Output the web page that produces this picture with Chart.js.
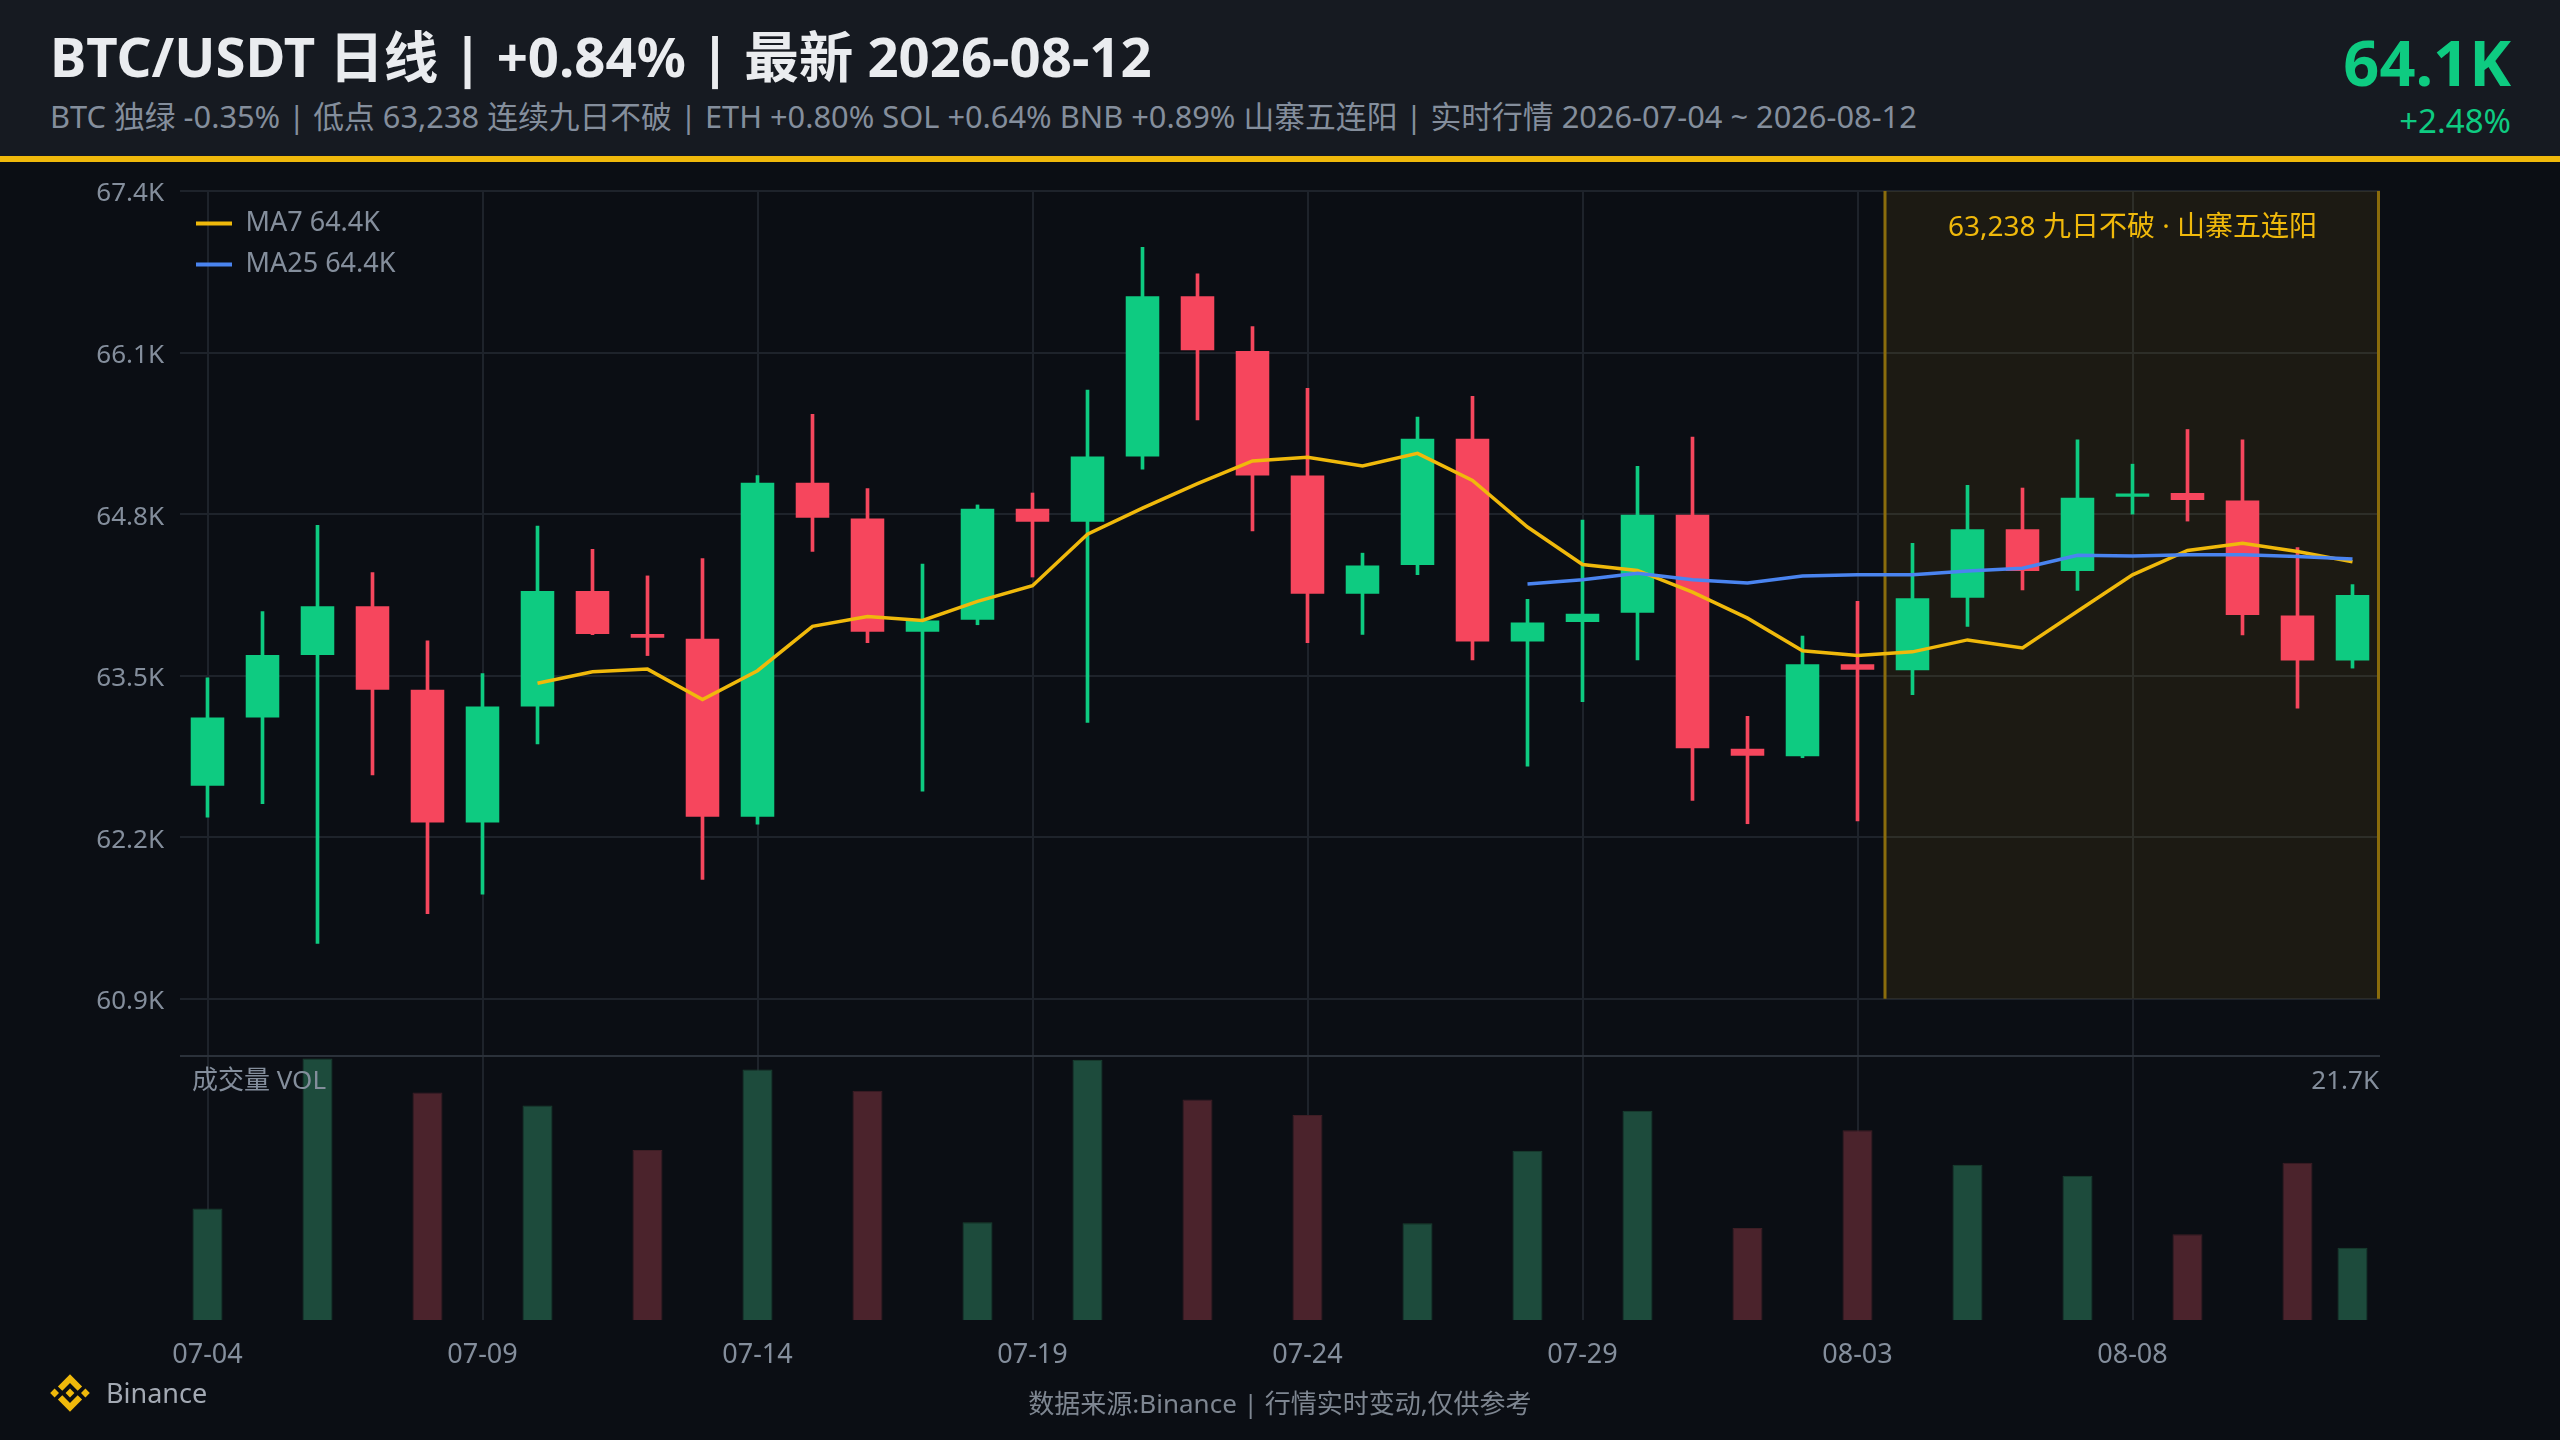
<!DOCTYPE html>
<html lang="zh-CN">
<head>
<meta charset="utf-8">
<title>BTC/USDT 日线</title>
<script src="https://cdn.jsdelivr.net/npm/chart.js@4.4.1/dist/chart.umd.min.js"></script>
<style>
  html, body { margin: 0; padding: 0; }
  body {
    width: 2560px; height: 1440px; overflow: hidden; position: relative;
    background: #0b0e14;
    font-family: "Noto Sans", "Noto Sans CJK SC", sans-serif;
  }
  #head {
    position: absolute; left: 0; top: 0; width: 2560px; height: 156px;
    background: #161a21; border-bottom: 6px solid #F0B90B; z-index: 2;
  }
  #title { position: absolute; left: 50px; top: 24px; font-size: 54.5px; line-height: 64px; font-weight: 700; color: #eaecef; white-space: nowrap; }
  #sub { position: absolute; left: 50px; top: 98px; font-size: 30.8px; line-height: 36px; color: #848e9c; white-space: nowrap; }
  #last { position: absolute; right: 49px; top: 24px; font-size: 63px; line-height: 76px; font-weight: 700; color: #0ECB81; }
  #chg { position: absolute; right: 49px; top: 102px; font-size: 33px; line-height: 38px; color: #0ECB81; }
  #wrap { position: absolute; left: 0; top: 0; width: 2560px; height: 1440px; z-index: 1; }
  #logo { position: absolute; left: 48px; top: 1371px; width: 44px; height: 44px; z-index: 2; }
  #brand { position: absolute; left: 106px; top: 1376px; font-size: 27px; line-height: 34px; color: #a3a9b3; z-index: 2; }
  #foot { position: absolute; left: 0; width: 2560px; top: 1387px; text-align: center; font-size: 26px; line-height: 32px; color: #7e8691; z-index: 2; }
</style>
</head>
<body>
<div id="head">
  <div id="title">BTC/USDT 日线 | +0.84% | 最新 2026-08-12</div>
  <div id="sub">BTC 独绿 -0.35% | 低点 63,238 连续九日不破 | ETH +0.80% SOL +0.64% BNB +0.89% 山寨五连阳 | 实时行情 2026-07-04 ~ 2026-08-12</div>
  <div id="last">64.1K</div>
  <div id="chg">+2.48%</div>
</div>
<div id="wrap"><canvas id="klineCanvas"></canvas></div>
<svg id="logo" viewBox="0 0 40 40">
  <g fill="#F0B90B">
    <polygon points="20,16 24,20 20,24 16,20"/>
    <polygon points="6,16 10,20 6,24 2,20"/>
    <polygon points="34,16 38,20 34,24 30,20"/>
    <polygon points="20,3 31,14 27,18 20,11 13,18 9,14"/>
    <polygon points="20,37 31,26 27,22 20,29 13,22 9,26"/>
  </g>
</svg>
<div id="brand">Binance</div>
<div id="foot">数据来源:Binance | 行情实时变动,仅供参考</div>

<script>
//Fechas (categorías)
const dates = ['07-04','07-05','07-06','07-07','07-08','07-09','07-10','07-11','07-12','07-13',
  '07-14','07-15','07-16','07-17','07-18','07-19','07-20','07-21','07-22','07-23',
  '07-24','07-25','07-26','07-27','07-28','07-29','07-30','07-31','08-01','08-02',
  '08-03','08-04','08-05','08-06','08-07','08-08','08-09','08-10','08-11','08-12']

//Velas OHLC
const opens = [62615,63164,63666,64059,63387,62318,63252,64181,63836,63797,
  62366,65053,64765,63854,63950,64844,64739,65263,66554,66113,
  65110,64159,64390,65407,63775,63932,64006,64796,62912,62851,
  63592,63544,64128,64678,64342,64940,64970,64910,63985,63623]
const highs = [63483,64015,64709,64329,63780,63518,64704,64517,64303,64443,
  65110,65603,65005,64399,64874,64970,65799,66946,66733,66309,
  65812,64486,65581,65747,64115,64752,65184,65420,63173,63819,
  64098,64565,65031,65010,65398,65202,65481,65398,64530,64233]
const lows = [62362,62471,61345,62702,61585,61742,62951,63830,63662,61860,
  62305,64499,63766,62571,63910,64294,63125,65162,65559,64665,
  63766,63832,64312,63627,62772,63291,63627,62497,62309,62840,
  62331,63348,63897,64190,64186,64800,64744,63828,63238,63561]
const closes = [63164,63666,64059,63387,62318,63252,64181,63836,63806,62366,
  65053,64770,63854,63945,64844,64739,65263,66554,66118,65110,
  64159,64386,65407,63775,63928,63998,64796,62916,62855,63592,
  63548,64124,64678,64342,64931,64966,64914,63989,63623,64150]

//Volumen (sólo las barras visibles)
const volumes = [9240,null,21700,null,18880,null,17790,null,14100,null,
  20790,null,19010,null,8110,null,21590,null,18290,null,
  17010,null,8020,null,14050,null,17350,null,7630,null,
  15740,null,12880,null,11960,null,7110,null,13050,6000]

//Medias móviles
const ma7 = [null,null,null,null,null,null,63439,63531,63553,63308,
  63540,63897,63976,63945,64098,64224,64639,64848,65045,65228,
  65258,65188,65289,65071,64696,64395,64347,64172,63963,63701,
  63662,63692,63788,63723,64019,64312,64508,64565,64499,64416]
const ma25 = [null,null,null,null,null,null,null,null,null,null,
  null,null,null,null,null,null,null,null,null,null,
  null,null,null,null,64238,64272,64325,64272,64246,64303,
  64312,64312,64342,64364,64469,64464,64473,64473,64460,64438]

//Ejes
const priceTicks = [60900,62200,63500,64800,66100,67400]
const boxFrom = '08-04'
const boxTo = '08-12'
const boxLabel = '63,238 九日不破 · 山寨五连阳'

const UP = '#0ECB81'
const DOWN = '#F6465D'
const UP_VOL = '#1d4b3c'
const DOWN_VOL = '#4b232c'
const GRID = '#1e232b'
const MA7_COLOR = '#F0B90B'
const MA25_COLOR = '#4a84f0'

const fmtK = v => (v / 1000).toFixed(1) + 'K'
const isUp = i => closes[i] >= opens[i]
const lastOf = arr => arr[arr.length - 1]

Chart.defaults.font.family = '"Noto Sans", "Noto Sans CJK SC", sans-serif'
Chart.defaults.color = '#848e9c'

//Caja de resaltado y rótulos del volumen
const overlayPlugin = {
  id: 'overlay',
  //la leyenda 'chartArea' queda arriba del canvas: se baja al área del gráfico
  afterLayout(chart) {
    const lg = chart.legend
    if (!lg) return
    const h = lg.bottom - lg.top
    lg.top = chart.chartArea.top + 5
    lg.bottom = lg.top + h
    lg.left = chart.chartArea.left + 2
  },
  beforeDatasetsDraw(chart) {
    const {ctx, chartArea, scales} = chart
    const x = scales.x, y = scales.y
    const i0 = dates.indexOf(boxFrom), i1 = dates.indexOf(boxTo)
    const half = (x.getPixelForValue(1) - x.getPixelForValue(0)) / 2
    const left = x.getPixelForValue(i0) - half
    const right = Math.min(x.getPixelForValue(i1) + half, chartArea.right)
    const top = y.getPixelForValue(priceTicks[priceTicks.length - 1])
    const bottom = y.getPixelForValue(priceTicks[0])
    ctx.save()
    ctx.fillStyle = 'rgba(240,185,11,0.075)'
    ctx.fillRect(left, top, right - left, bottom - top)
    ctx.strokeStyle = '#8a6c0c'
    ctx.lineWidth = 3
    ctx.beginPath()
    ctx.moveTo(left, top); ctx.lineTo(left, bottom)
    ctx.moveTo(right - 1.5, top); ctx.lineTo(right - 1.5, bottom)
    ctx.stroke()
    ctx.restore()
  },
  afterDatasetsDraw(chart) {
    const {ctx, chartArea, scales} = chart
    const x = scales.x, y = scales.y, vol = scales.vol
    const i0 = dates.indexOf(boxFrom), i1 = dates.indexOf(boxTo)
    const half = (x.getPixelForValue(1) - x.getPixelForValue(0)) / 2
    const left = x.getPixelForValue(i0) - half
    const right = Math.min(x.getPixelForValue(i1) + half, chartArea.right)
    ctx.save()
    ctx.textBaseline = 'middle'
    ctx.font = '28px "Noto Sans", "Noto Sans CJK SC", sans-serif'
    ctx.fillStyle = '#F0B90B'
    ctx.textAlign = 'center'
    ctx.fillText(boxLabel, (left + right) / 2, y.top + 37)
    ctx.font = '26px "Noto Sans", "Noto Sans CJK SC", sans-serif'
    ctx.fillStyle = '#848e9c'
    ctx.textAlign = 'left'
    ctx.fillText('成交量 VOL', chartArea.left + 12, vol.top + 26)
    ctx.textAlign = 'right'
    ctx.fillText(fmtK(Math.max(...volumes.filter(v => v !== null))), chartArea.right - 1, vol.top + 26)
    ctx.restore()
  }
}

const generateKline = () => {
  let klineCanvas = document.getElementById('klineCanvas')
  let candleColors = dates.map((d, i) => isUp(i) ? UP : DOWN)
  let volColors = dates.map((d, i) => isUp(i) ? UP_VOL : DOWN_VOL)

  new Chart(klineCanvas, {
    type: 'bar',
    data: {
      labels: dates,
      datasets: [
        {
          label: 'wick',
          data: lows.map((l, i) => [l, highs[i]]),
          backgroundColor: candleColors,
          barThickness: 3,
          grouped: false,
          yAxisID: 'y',
          order: 4
        },
        {
          label: 'body',
          data: opens.map((o, i) => [o, closes[i]]),
          backgroundColor: candleColors,
          barPercentage: 0.61,
          categoryPercentage: 1,
          minBarLength: 3,
          grouped: false,
          yAxisID: 'y',
          order: 3
        },
        {
          label: 'VOL',
          data: volumes,
          backgroundColor: volColors,
          borderColor: dates.map((d, i) => isUp(i) ? '#19402f' : '#3e1e25'),
          borderWidth: 1,
          barPercentage: 0.545,
          categoryPercentage: 1,
          grouped: false,
          yAxisID: 'vol',
          order: 5
        },
        {
          type: 'line',
          label: 'MA7',
          data: ma7,
          borderColor: MA7_COLOR,
          backgroundColor: MA7_COLOR,
          borderWidth: 3.5,
          pointRadius: 0,
          tension: 0,
          yAxisID: 'y',
          order: 1
        },
        {
          type: 'line',
          label: 'MA25',
          data: ma25,
          borderColor: MA25_COLOR,
          backgroundColor: MA25_COLOR,
          borderWidth: 3.5,
          pointRadius: 0,
          tension: 0,
          yAxisID: 'y',
          order: 0
        }
      ]
    },
    options: {
      responsive: true,
      maintainAspectRatio: false,
      animation: false,
      layout: { padding: { top: 191, right: 180, bottom: 60, left: 0 } },
      scales: {
        x: {
          offset: true,
          grid: {
            offset: false,
            drawTicks: false,
            lineWidth: 2,
            color: ctx => ctx.index % 5 === 0 ? GRID : 'transparent'
          },
          border: { display: false },
          ticks: {
            autoSkip: false,
            maxRotation: 0,
            padding: 19,
            color: '#848e9c',
            font: { size: 27 },
            callback: (v, i) => i % 5 === 0 ? dates[i] : ''
          },
          afterFit: scale => { scale.height = 60 }
        },
        y: {
          position: 'left',
          stack: 'kline',
          stackWeight: 865,
          weight: 2,
          min: 60440,
          max: 67400,
          afterBuildTicks: scale => { scale.ticks = priceTicks.map(v => ({value: v})) },
          afterFit: scale => { scale.width = 180 },
          grid: { drawTicks: false, lineWidth: 2, color: GRID },
          border: { display: false },
          ticks: {
            padding: 16,
            labelOffset: 3,
            color: '#848e9c',
            font: { size: 26 },
            callback: v => fmtK(v)
          }
        },
        vol: {
          position: 'left',
          stack: 'kline',
          stackWeight: 264,
          weight: 1,
          min: 0,
          max: 21900,
          afterBuildTicks: scale => { scale.ticks = [{value: 21900}] },
          grid: { drawTicks: false, lineWidth: 2, color: '#2b313a' },
          border: { display: false },
          ticks: { display: false }
        }
      },
      plugins: {
        tooltip: { enabled: false },
        legend: {
          position: 'chartArea',
          align: 'start',
          labels: {
            boxWidth: 36,
            boxHeight: 4,
            padding: 14,
            color: '#848e9c',
            font: { size: 27 },
            generateLabels: () => [
              { text: 'MA7 ' + fmtK(lastOf(ma7)), fillStyle: MA7_COLOR, strokeStyle: MA7_COLOR, lineWidth: 0, datasetIndex: 3, fontColor: '#848e9c' },
              { text: 'MA25 ' + fmtK(lastOf(ma25)), fillStyle: MA25_COLOR, strokeStyle: MA25_COLOR, lineWidth: 0, datasetIndex: 4, fontColor: '#848e9c' }
            ]
          }
        }
      }
    },
    plugins: [overlayPlugin]
  })
}

generateKline()
</script>
</body>
</html>
